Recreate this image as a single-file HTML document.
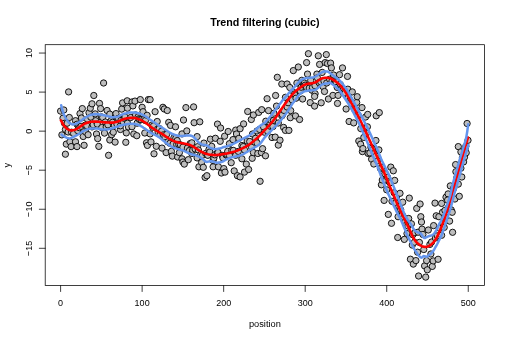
<!DOCTYPE html>
<html><head><meta charset="utf-8"><title>Trend filtering (cubic)</title>
<style>html,body{margin:0;padding:0;background:#fff;overflow:hidden}body{width:507px;height:342px;position:relative}</style></head>
<body>
<svg width="507" height="342" viewBox="0 0 507 342" style="position:absolute;left:0;top:0">
<rect width="507" height="342" fill="#fff"/>
<g fill="#bebebe" stroke="#000" stroke-width="0.9">
<circle cx="60.6" cy="111.1" r="3.15"/>
<circle cx="61.9" cy="134.9" r="3.15"/>
<circle cx="63.0" cy="118.2" r="3.15"/>
<circle cx="63.8" cy="110.0" r="3.15"/>
<circle cx="64.5" cy="123.3" r="3.15"/>
<circle cx="65.4" cy="129.5" r="3.15"/>
<circle cx="65.4" cy="154.2" r="3.15"/>
<circle cx="66.3" cy="144.1" r="3.15"/>
<circle cx="67.2" cy="123.2" r="3.15"/>
<circle cx="68.1" cy="132.0" r="3.15"/>
<circle cx="68.6" cy="91.9" r="3.15"/>
<circle cx="69.3" cy="117.5" r="3.15"/>
<circle cx="69.9" cy="141.8" r="3.15"/>
<circle cx="71.1" cy="146.6" r="3.15"/>
<circle cx="71.6" cy="132.2" r="3.15"/>
<circle cx="73.6" cy="133.5" r="3.15"/>
<circle cx="75.5" cy="141.8" r="3.15"/>
<circle cx="75.5" cy="120.7" r="3.15"/>
<circle cx="77.0" cy="146.6" r="3.15"/>
<circle cx="77.0" cy="124.2" r="3.15"/>
<circle cx="77.7" cy="130.6" r="3.15"/>
<circle cx="78.5" cy="126.5" r="3.15"/>
<circle cx="79.4" cy="127.7" r="3.15"/>
<circle cx="80.0" cy="113.6" r="3.15"/>
<circle cx="81.0" cy="126.3" r="3.15"/>
<circle cx="81.4" cy="118.0" r="3.15"/>
<circle cx="82.3" cy="108.6" r="3.15"/>
<circle cx="83.2" cy="136.5" r="3.15"/>
<circle cx="84.1" cy="145.3" r="3.15"/>
<circle cx="85.1" cy="125.2" r="3.15"/>
<circle cx="85.8" cy="132.2" r="3.15"/>
<circle cx="86.7" cy="125.6" r="3.15"/>
<circle cx="87.5" cy="119.2" r="3.15"/>
<circle cx="88.1" cy="134.7" r="3.15"/>
<circle cx="89.0" cy="112.7" r="3.15"/>
<circle cx="90.3" cy="108.2" r="3.15"/>
<circle cx="90.8" cy="117.1" r="3.15"/>
<circle cx="92.0" cy="126.9" r="3.15"/>
<circle cx="92.0" cy="103.8" r="3.15"/>
<circle cx="93.2" cy="124.8" r="3.15"/>
<circle cx="93.8" cy="95.5" r="3.15"/>
<circle cx="95.2" cy="113.9" r="3.15"/>
<circle cx="95.7" cy="120.7" r="3.15"/>
<circle cx="96.5" cy="134.0" r="3.15"/>
<circle cx="97.3" cy="124.1" r="3.15"/>
<circle cx="97.7" cy="138.6" r="3.15"/>
<circle cx="98.8" cy="146.4" r="3.15"/>
<circle cx="99.5" cy="103.4" r="3.15"/>
<circle cx="100.6" cy="108.6" r="3.15"/>
<circle cx="101.4" cy="116.9" r="3.15"/>
<circle cx="101.8" cy="127.6" r="3.15"/>
<circle cx="102.7" cy="117.5" r="3.15"/>
<circle cx="103.6" cy="83.0" r="3.15"/>
<circle cx="104.5" cy="133.1" r="3.15"/>
<circle cx="105.4" cy="122.0" r="3.15"/>
<circle cx="106.2" cy="126.9" r="3.15"/>
<circle cx="107.1" cy="110.5" r="3.15"/>
<circle cx="107.9" cy="124.8" r="3.15"/>
<circle cx="108.6" cy="155.3" r="3.15"/>
<circle cx="109.8" cy="114.1" r="3.15"/>
<circle cx="109.8" cy="140.0" r="3.15"/>
<circle cx="111.1" cy="120.7" r="3.15"/>
<circle cx="111.6" cy="134.7" r="3.15"/>
<circle cx="112.5" cy="122.3" r="3.15"/>
<circle cx="113.3" cy="132.2" r="3.15"/>
<circle cx="114.4" cy="125.2" r="3.15"/>
<circle cx="115.1" cy="142.1" r="3.15"/>
<circle cx="116.0" cy="113.6" r="3.15"/>
<circle cx="116.9" cy="124.0" r="3.15"/>
<circle cx="117.7" cy="118.8" r="3.15"/>
<circle cx="118.5" cy="118.4" r="3.15"/>
<circle cx="120.4" cy="129.5" r="3.15"/>
<circle cx="120.4" cy="125.8" r="3.15"/>
<circle cx="120.9" cy="120.5" r="3.15"/>
<circle cx="121.7" cy="109.1" r="3.15"/>
<circle cx="122.6" cy="102.9" r="3.15"/>
<circle cx="123.4" cy="122.3" r="3.15"/>
<circle cx="124.2" cy="118.3" r="3.15"/>
<circle cx="125.0" cy="117.0" r="3.15"/>
<circle cx="125.8" cy="142.3" r="3.15"/>
<circle cx="126.3" cy="132.9" r="3.15"/>
<circle cx="127.2" cy="100.8" r="3.15"/>
<circle cx="127.5" cy="108.2" r="3.15"/>
<circle cx="127.5" cy="123.2" r="3.15"/>
<circle cx="128.4" cy="126.9" r="3.15"/>
<circle cx="130.7" cy="117.5" r="3.15"/>
<circle cx="132.0" cy="126.7" r="3.15"/>
<circle cx="132.0" cy="102.0" r="3.15"/>
<circle cx="132.9" cy="105.9" r="3.15"/>
<circle cx="133.8" cy="134.0" r="3.15"/>
<circle cx="135.0" cy="101.1" r="3.15"/>
<circle cx="135.6" cy="114.9" r="3.15"/>
<circle cx="136.8" cy="135.7" r="3.15"/>
<circle cx="137.1" cy="123.2" r="3.15"/>
<circle cx="138.1" cy="116.9" r="3.15"/>
<circle cx="138.9" cy="118.8" r="3.15"/>
<circle cx="139.7" cy="119.6" r="3.15"/>
<circle cx="140.3" cy="99.6" r="3.15"/>
<circle cx="141.2" cy="119.7" r="3.15"/>
<circle cx="142.1" cy="107.3" r="3.15"/>
<circle cx="143.0" cy="111.7" r="3.15"/>
<circle cx="143.8" cy="119.6" r="3.15"/>
<circle cx="144.8" cy="133.0" r="3.15"/>
<circle cx="145.4" cy="120.5" r="3.15"/>
<circle cx="146.5" cy="142.8" r="3.15"/>
<circle cx="147.1" cy="115.3" r="3.15"/>
<circle cx="147.4" cy="145.4" r="3.15"/>
<circle cx="148.3" cy="99.6" r="3.15"/>
<circle cx="150.1" cy="133.9" r="3.15"/>
<circle cx="150.1" cy="99.6" r="3.15"/>
<circle cx="151.0" cy="141.9" r="3.15"/>
<circle cx="151.9" cy="125.0" r="3.15"/>
<circle cx="152.7" cy="127.3" r="3.15"/>
<circle cx="153.6" cy="125.9" r="3.15"/>
<circle cx="154.0" cy="153.8" r="3.15"/>
<circle cx="155.1" cy="111.7" r="3.15"/>
<circle cx="156.3" cy="146.3" r="3.15"/>
<circle cx="157.2" cy="121.5" r="3.15"/>
<circle cx="157.6" cy="129.1" r="3.15"/>
<circle cx="158.1" cy="132.1" r="3.15"/>
<circle cx="159.3" cy="128.4" r="3.15"/>
<circle cx="160.1" cy="134.5" r="3.15"/>
<circle cx="162.0" cy="148.1" r="3.15"/>
<circle cx="161.6" cy="131.2" r="3.15"/>
<circle cx="162.9" cy="107.3" r="3.15"/>
<circle cx="163.3" cy="134.9" r="3.15"/>
<circle cx="164.3" cy="109.0" r="3.15"/>
<circle cx="165.0" cy="136.8" r="3.15"/>
<circle cx="166.1" cy="152.6" r="3.15"/>
<circle cx="166.6" cy="134.4" r="3.15"/>
<circle cx="167.3" cy="110.5" r="3.15"/>
<circle cx="167.8" cy="141.9" r="3.15"/>
<circle cx="168.7" cy="122.4" r="3.15"/>
<circle cx="169.9" cy="143.3" r="3.15"/>
<circle cx="170.5" cy="125.4" r="3.15"/>
<circle cx="171.4" cy="151.3" r="3.15"/>
<circle cx="172.3" cy="156.1" r="3.15"/>
<circle cx="173.1" cy="144.0" r="3.15"/>
<circle cx="173.9" cy="137.8" r="3.15"/>
<circle cx="175.8" cy="138.3" r="3.15"/>
<circle cx="175.5" cy="126.8" r="3.15"/>
<circle cx="176.7" cy="144.5" r="3.15"/>
<circle cx="177.2" cy="140.6" r="3.15"/>
<circle cx="177.6" cy="157.0" r="3.15"/>
<circle cx="178.8" cy="144.6" r="3.15"/>
<circle cx="179.4" cy="152.6" r="3.15"/>
<circle cx="180.4" cy="144.8" r="3.15"/>
<circle cx="182.0" cy="158.8" r="3.15"/>
<circle cx="182.0" cy="133.9" r="3.15"/>
<circle cx="182.9" cy="147.2" r="3.15"/>
<circle cx="182.9" cy="162.0" r="3.15"/>
<circle cx="183.5" cy="120.0" r="3.15"/>
<circle cx="184.3" cy="164.1" r="3.15"/>
<circle cx="185.9" cy="107.6" r="3.15"/>
<circle cx="186.8" cy="130.9" r="3.15"/>
<circle cx="187.4" cy="148.1" r="3.15"/>
<circle cx="188.3" cy="159.7" r="3.15"/>
<circle cx="189.4" cy="150.5" r="3.15"/>
<circle cx="190.2" cy="143.6" r="3.15"/>
<circle cx="191.8" cy="153.5" r="3.15"/>
<circle cx="191.8" cy="142.8" r="3.15"/>
<circle cx="192.7" cy="150.1" r="3.15"/>
<circle cx="193.6" cy="106.9" r="3.15"/>
<circle cx="194.1" cy="122.7" r="3.15"/>
<circle cx="195.1" cy="149.0" r="3.15"/>
<circle cx="197.1" cy="157.9" r="3.15"/>
<circle cx="197.1" cy="136.6" r="3.15"/>
<circle cx="197.6" cy="146.7" r="3.15"/>
<circle cx="198.4" cy="150.0" r="3.15"/>
<circle cx="198.9" cy="166.8" r="3.15"/>
<circle cx="199.8" cy="121.8" r="3.15"/>
<circle cx="200.8" cy="154.4" r="3.15"/>
<circle cx="201.6" cy="162.4" r="3.15"/>
<circle cx="202.5" cy="155.2" r="3.15"/>
<circle cx="203.3" cy="167.3" r="3.15"/>
<circle cx="203.9" cy="143.1" r="3.15"/>
<circle cx="205.1" cy="177.4" r="3.15"/>
<circle cx="205.7" cy="153.4" r="3.15"/>
<circle cx="206.9" cy="175.7" r="3.15"/>
<circle cx="207.4" cy="154.8" r="3.15"/>
<circle cx="207.8" cy="155.3" r="3.15"/>
<circle cx="209.0" cy="149.4" r="3.15"/>
<circle cx="209.8" cy="152.0" r="3.15"/>
<circle cx="210.4" cy="139.2" r="3.15"/>
<circle cx="211.7" cy="146.3" r="3.15"/>
<circle cx="213.1" cy="166.8" r="3.15"/>
<circle cx="213.1" cy="160.6" r="3.15"/>
<circle cx="213.9" cy="158.1" r="3.15"/>
<circle cx="214.7" cy="154.8" r="3.15"/>
<circle cx="215.4" cy="138.3" r="3.15"/>
<circle cx="217.5" cy="152.6" r="3.15"/>
<circle cx="217.5" cy="124.1" r="3.15"/>
<circle cx="218.0" cy="152.5" r="3.15"/>
<circle cx="218.4" cy="166.8" r="3.15"/>
<circle cx="220.6" cy="128.0" r="3.15"/>
<circle cx="220.2" cy="141.3" r="3.15"/>
<circle cx="221.4" cy="173.0" r="3.15"/>
<circle cx="222.0" cy="155.3" r="3.15"/>
<circle cx="222.9" cy="157.9" r="3.15"/>
<circle cx="223.8" cy="168.6" r="3.15"/>
<circle cx="224.6" cy="136.2" r="3.15"/>
<circle cx="225.0" cy="172.1" r="3.15"/>
<circle cx="226.1" cy="154.9" r="3.15"/>
<circle cx="226.9" cy="154.3" r="3.15"/>
<circle cx="227.7" cy="151.3" r="3.15"/>
<circle cx="228.2" cy="131.5" r="3.15"/>
<circle cx="229.4" cy="143.7" r="3.15"/>
<circle cx="229.4" cy="155.3" r="3.15"/>
<circle cx="231.2" cy="162.7" r="3.15"/>
<circle cx="231.8" cy="150.4" r="3.15"/>
<circle cx="233.0" cy="139.6" r="3.15"/>
<circle cx="233.4" cy="150.4" r="3.15"/>
<circle cx="234.2" cy="170.9" r="3.15"/>
<circle cx="235.7" cy="155.3" r="3.15"/>
<circle cx="235.7" cy="130.1" r="3.15"/>
<circle cx="236.5" cy="134.0" r="3.15"/>
<circle cx="237.4" cy="175.7" r="3.15"/>
<circle cx="238.3" cy="151.4" r="3.15"/>
<circle cx="238.8" cy="138.4" r="3.15"/>
<circle cx="240.1" cy="128.7" r="3.15"/>
<circle cx="240.1" cy="176.9" r="3.15"/>
<circle cx="241.9" cy="145.5" r="3.15"/>
<circle cx="241.9" cy="158.8" r="3.15"/>
<circle cx="243.2" cy="146.6" r="3.15"/>
<circle cx="243.6" cy="123.9" r="3.15"/>
<circle cx="244.5" cy="149.9" r="3.15"/>
<circle cx="244.5" cy="172.1" r="3.15"/>
<circle cx="246.3" cy="164.1" r="3.15"/>
<circle cx="247.2" cy="141.1" r="3.15"/>
<circle cx="247.7" cy="111.5" r="3.15"/>
<circle cx="248.6" cy="169.5" r="3.15"/>
<circle cx="249.7" cy="141.5" r="3.15"/>
<circle cx="251.6" cy="147.3" r="3.15"/>
<circle cx="251.3" cy="119.5" r="3.15"/>
<circle cx="252.2" cy="158.3" r="3.15"/>
<circle cx="252.5" cy="134.0" r="3.15"/>
<circle cx="253.4" cy="115.0" r="3.15"/>
<circle cx="253.4" cy="152.6" r="3.15"/>
<circle cx="255.5" cy="138.3" r="3.15"/>
<circle cx="257.0" cy="142.8" r="3.15"/>
<circle cx="257.0" cy="131.0" r="3.15"/>
<circle cx="257.8" cy="153.5" r="3.15"/>
<circle cx="258.7" cy="112.4" r="3.15"/>
<circle cx="259.5" cy="129.4" r="3.15"/>
<circle cx="260.1" cy="181.3" r="3.15"/>
<circle cx="261.4" cy="152.6" r="3.15"/>
<circle cx="261.7" cy="109.7" r="3.15"/>
<circle cx="262.6" cy="148.7" r="3.15"/>
<circle cx="263.6" cy="127.0" r="3.15"/>
<circle cx="264.4" cy="132.2" r="3.15"/>
<circle cx="265.5" cy="155.8" r="3.15"/>
<circle cx="265.8" cy="121.2" r="3.15"/>
<circle cx="267.1" cy="98.7" r="3.15"/>
<circle cx="267.7" cy="131.2" r="3.15"/>
<circle cx="268.5" cy="110.6" r="3.15"/>
<circle cx="269.3" cy="125.9" r="3.15"/>
<circle cx="270.1" cy="123.2" r="3.15"/>
<circle cx="270.9" cy="120.2" r="3.15"/>
<circle cx="272.0" cy="137.5" r="3.15"/>
<circle cx="272.9" cy="126.6" r="3.15"/>
<circle cx="273.4" cy="120.4" r="3.15"/>
<circle cx="273.8" cy="113.2" r="3.15"/>
<circle cx="275.2" cy="137.1" r="3.15"/>
<circle cx="275.6" cy="95.5" r="3.15"/>
<circle cx="276.5" cy="106.1" r="3.15"/>
<circle cx="277.3" cy="77.3" r="3.15"/>
<circle cx="278.3" cy="123.0" r="3.15"/>
<circle cx="278.3" cy="145.1" r="3.15"/>
<circle cx="280.0" cy="140.2" r="3.15"/>
<circle cx="281.8" cy="115.9" r="3.15"/>
<circle cx="281.8" cy="84.0" r="3.15"/>
<circle cx="282.4" cy="114.6" r="3.15"/>
<circle cx="283.6" cy="127.4" r="3.15"/>
<circle cx="284.0" cy="110.4" r="3.15"/>
<circle cx="285.4" cy="130.4" r="3.15"/>
<circle cx="285.4" cy="97.3" r="3.15"/>
<circle cx="287.1" cy="107.0" r="3.15"/>
<circle cx="287.1" cy="84.0" r="3.15"/>
<circle cx="288.1" cy="102.7" r="3.15"/>
<circle cx="288.9" cy="130.4" r="3.15"/>
<circle cx="289.8" cy="87.5" r="3.15"/>
<circle cx="290.3" cy="117.7" r="3.15"/>
<circle cx="290.7" cy="110.6" r="3.15"/>
<circle cx="292.1" cy="99.8" r="3.15"/>
<circle cx="293.3" cy="70.6" r="3.15"/>
<circle cx="293.8" cy="92.6" r="3.15"/>
<circle cx="294.6" cy="94.0" r="3.15"/>
<circle cx="295.5" cy="115.9" r="3.15"/>
<circle cx="296.0" cy="98.2" r="3.15"/>
<circle cx="296.9" cy="83.1" r="3.15"/>
<circle cx="298.3" cy="67.0" r="3.15"/>
<circle cx="299.6" cy="119.5" r="3.15"/>
<circle cx="299.6" cy="91.1" r="3.15"/>
<circle cx="300.3" cy="90.9" r="3.15"/>
<circle cx="301.1" cy="87.2" r="3.15"/>
<circle cx="301.8" cy="80.3" r="3.15"/>
<circle cx="302.6" cy="99.0" r="3.15"/>
<circle cx="303.6" cy="85.0" r="3.15"/>
<circle cx="304.4" cy="83.1" r="3.15"/>
<circle cx="305.2" cy="85.2" r="3.15"/>
<circle cx="306.7" cy="87.5" r="3.15"/>
<circle cx="306.6" cy="62.6" r="3.15"/>
<circle cx="307.5" cy="74.1" r="3.15"/>
<circle cx="308.4" cy="53.7" r="3.15"/>
<circle cx="309.3" cy="88.1" r="3.15"/>
<circle cx="310.2" cy="102.6" r="3.15"/>
<circle cx="310.7" cy="80.3" r="3.15"/>
<circle cx="312.0" cy="90.2" r="3.15"/>
<circle cx="312.5" cy="87.4" r="3.15"/>
<circle cx="315.1" cy="93.7" r="3.15"/>
<circle cx="314.6" cy="106.1" r="3.15"/>
<circle cx="314.6" cy="96.4" r="3.15"/>
<circle cx="315.0" cy="85.7" r="3.15"/>
<circle cx="316.9" cy="74.1" r="3.15"/>
<circle cx="317.4" cy="77.8" r="3.15"/>
<circle cx="318.3" cy="55.8" r="3.15"/>
<circle cx="319.1" cy="82.7" r="3.15"/>
<circle cx="319.6" cy="64.4" r="3.15"/>
<circle cx="320.7" cy="81.8" r="3.15"/>
<circle cx="321.2" cy="102.8" r="3.15"/>
<circle cx="322.2" cy="72.4" r="3.15"/>
<circle cx="323.0" cy="86.6" r="3.15"/>
<circle cx="323.9" cy="80.9" r="3.15"/>
<circle cx="324.5" cy="91.5" r="3.15"/>
<circle cx="325.2" cy="62.6" r="3.15"/>
<circle cx="326.3" cy="54.6" r="3.15"/>
<circle cx="326.7" cy="83.0" r="3.15"/>
<circle cx="327.5" cy="63.5" r="3.15"/>
<circle cx="328.4" cy="99.0" r="3.15"/>
<circle cx="329.6" cy="79.2" r="3.15"/>
<circle cx="330.6" cy="63.1" r="3.15"/>
<circle cx="331.4" cy="67.9" r="3.15"/>
<circle cx="332.1" cy="80.9" r="3.15"/>
<circle cx="332.9" cy="95.4" r="3.15"/>
<circle cx="333.6" cy="75.0" r="3.15"/>
<circle cx="334.5" cy="81.2" r="3.15"/>
<circle cx="335.4" cy="82.1" r="3.15"/>
<circle cx="336.2" cy="82.1" r="3.15"/>
<circle cx="337.2" cy="87.4" r="3.15"/>
<circle cx="337.5" cy="103.4" r="3.15"/>
<circle cx="338.1" cy="95.4" r="3.15"/>
<circle cx="339.5" cy="74.7" r="3.15"/>
<circle cx="340.2" cy="84.4" r="3.15"/>
<circle cx="341.1" cy="89.0" r="3.15"/>
<circle cx="341.9" cy="88.7" r="3.15"/>
<circle cx="342.5" cy="67.9" r="3.15"/>
<circle cx="343.5" cy="89.4" r="3.15"/>
<circle cx="344.3" cy="91.8" r="3.15"/>
<circle cx="345.1" cy="92.9" r="3.15"/>
<circle cx="346.1" cy="109.0" r="3.15"/>
<circle cx="347.8" cy="89.2" r="3.15"/>
<circle cx="347.5" cy="76.4" r="3.15"/>
<circle cx="348.4" cy="97.5" r="3.15"/>
<circle cx="349.1" cy="121.5" r="3.15"/>
<circle cx="350.0" cy="100.3" r="3.15"/>
<circle cx="350.8" cy="102.2" r="3.15"/>
<circle cx="351.7" cy="103.9" r="3.15"/>
<circle cx="352.3" cy="91.9" r="3.15"/>
<circle cx="353.7" cy="122.9" r="3.15"/>
<circle cx="354.1" cy="108.5" r="3.15"/>
<circle cx="354.9" cy="109.6" r="3.15"/>
<circle cx="355.7" cy="109.9" r="3.15"/>
<circle cx="356.7" cy="102.5" r="3.15"/>
<circle cx="357.2" cy="96.7" r="3.15"/>
<circle cx="358.2" cy="115.2" r="3.15"/>
<circle cx="358.8" cy="141.0" r="3.15"/>
<circle cx="360.8" cy="128.6" r="3.15"/>
<circle cx="360.6" cy="144.2" r="3.15"/>
<circle cx="362.4" cy="151.6" r="3.15"/>
<circle cx="362.0" cy="107.6" r="3.15"/>
<circle cx="362.9" cy="148.6" r="3.15"/>
<circle cx="363.8" cy="137.4" r="3.15"/>
<circle cx="364.7" cy="128.0" r="3.15"/>
<circle cx="365.6" cy="117.0" r="3.15"/>
<circle cx="366.3" cy="133.3" r="3.15"/>
<circle cx="367.4" cy="126.8" r="3.15"/>
<circle cx="367.7" cy="114.4" r="3.15"/>
<circle cx="368.1" cy="153.4" r="3.15"/>
<circle cx="369.9" cy="152.9" r="3.15"/>
<circle cx="371.6" cy="159.2" r="3.15"/>
<circle cx="370.9" cy="147.2" r="3.15"/>
<circle cx="372.0" cy="148.1" r="3.15"/>
<circle cx="372.9" cy="149.6" r="3.15"/>
<circle cx="373.8" cy="164.0" r="3.15"/>
<circle cx="374.5" cy="153.3" r="3.15"/>
<circle cx="376.1" cy="156.1" r="3.15"/>
<circle cx="375.9" cy="140.5" r="3.15"/>
<circle cx="376.2" cy="115.8" r="3.15"/>
<circle cx="377.8" cy="160.9" r="3.15"/>
<circle cx="378.9" cy="149.9" r="3.15"/>
<circle cx="379.3" cy="112.6" r="3.15"/>
<circle cx="380.5" cy="168.5" r="3.15"/>
<circle cx="381.4" cy="184.8" r="3.15"/>
<circle cx="381.8" cy="167.3" r="3.15"/>
<circle cx="382.3" cy="180.0" r="3.15"/>
<circle cx="383.5" cy="175.8" r="3.15"/>
<circle cx="384.1" cy="200.4" r="3.15"/>
<circle cx="384.9" cy="173.8" r="3.15"/>
<circle cx="385.9" cy="180.0" r="3.15"/>
<circle cx="386.7" cy="189.8" r="3.15"/>
<circle cx="387.6" cy="177.4" r="3.15"/>
<circle cx="388.3" cy="214.4" r="3.15"/>
<circle cx="389.2" cy="181.7" r="3.15"/>
<circle cx="390.0" cy="182.9" r="3.15"/>
<circle cx="390.8" cy="167.1" r="3.15"/>
<circle cx="391.5" cy="223.3" r="3.15"/>
<circle cx="392.0" cy="201.3" r="3.15"/>
<circle cx="393.3" cy="170.8" r="3.15"/>
<circle cx="394.1" cy="192.8" r="3.15"/>
<circle cx="394.7" cy="180.4" r="3.15"/>
<circle cx="395.7" cy="202.7" r="3.15"/>
<circle cx="396.5" cy="196.9" r="3.15"/>
<circle cx="397.7" cy="237.5" r="3.15"/>
<circle cx="398.1" cy="216.7" r="3.15"/>
<circle cx="398.9" cy="206.5" r="3.15"/>
<circle cx="400.0" cy="193.3" r="3.15"/>
<circle cx="400.6" cy="209.6" r="3.15"/>
<circle cx="401.4" cy="214.4" r="3.15"/>
<circle cx="402.2" cy="214.9" r="3.15"/>
<circle cx="402.7" cy="202.2" r="3.15"/>
<circle cx="403.8" cy="217.5" r="3.15"/>
<circle cx="404.3" cy="239.4" r="3.15"/>
<circle cx="405.5" cy="221.5" r="3.15"/>
<circle cx="406.3" cy="225.3" r="3.15"/>
<circle cx="407.0" cy="233.6" r="3.15"/>
<circle cx="407.9" cy="226.0" r="3.15"/>
<circle cx="408.7" cy="218.5" r="3.15"/>
<circle cx="409.3" cy="198.1" r="3.15"/>
<circle cx="410.4" cy="259.2" r="3.15"/>
<circle cx="411.4" cy="223.8" r="3.15"/>
<circle cx="412.3" cy="245.1" r="3.15"/>
<circle cx="412.8" cy="234.8" r="3.15"/>
<circle cx="413.3" cy="264.1" r="3.15"/>
<circle cx="414.4" cy="242.2" r="3.15"/>
<circle cx="414.9" cy="232.7" r="3.15"/>
<circle cx="415.9" cy="260.6" r="3.15"/>
<circle cx="416.7" cy="208.4" r="3.15"/>
<circle cx="417.6" cy="252.2" r="3.15"/>
<circle cx="418.1" cy="232.2" r="3.15"/>
<circle cx="418.6" cy="276.0" r="3.15"/>
<circle cx="419.4" cy="242.4" r="3.15"/>
<circle cx="420.1" cy="204.0" r="3.15"/>
<circle cx="420.8" cy="216.7" r="3.15"/>
<circle cx="421.5" cy="222.0" r="3.15"/>
<circle cx="422.0" cy="229.1" r="3.15"/>
<circle cx="422.9" cy="234.5" r="3.15"/>
<circle cx="423.8" cy="249.5" r="3.15"/>
<circle cx="424.6" cy="265.9" r="3.15"/>
<circle cx="425.7" cy="277.1" r="3.15"/>
<circle cx="426.6" cy="260.6" r="3.15"/>
<circle cx="427.3" cy="269.8" r="3.15"/>
<circle cx="428.3" cy="230.0" r="3.15"/>
<circle cx="429.9" cy="244.4" r="3.15"/>
<circle cx="430.9" cy="254.0" r="3.15"/>
<circle cx="431.6" cy="242.0" r="3.15"/>
<circle cx="432.3" cy="266.4" r="3.15"/>
<circle cx="433.2" cy="260.9" r="3.15"/>
<circle cx="433.6" cy="225.6" r="3.15"/>
<circle cx="435.0" cy="203.1" r="3.15"/>
<circle cx="435.4" cy="238.0" r="3.15"/>
<circle cx="436.2" cy="215.8" r="3.15"/>
<circle cx="437.3" cy="235.8" r="3.15"/>
<circle cx="438.1" cy="259.3" r="3.15"/>
<circle cx="438.9" cy="216.7" r="3.15"/>
<circle cx="439.7" cy="228.3" r="3.15"/>
<circle cx="441.6" cy="235.3" r="3.15"/>
<circle cx="441.6" cy="203.4" r="3.15"/>
<circle cx="442.5" cy="212.3" r="3.15"/>
<circle cx="443.0" cy="223.5" r="3.15"/>
<circle cx="444.9" cy="210.4" r="3.15"/>
<circle cx="444.2" cy="227.4" r="3.15"/>
<circle cx="445.4" cy="216.8" r="3.15"/>
<circle cx="446.0" cy="197.2" r="3.15"/>
<circle cx="448.1" cy="193.9" r="3.15"/>
<circle cx="447.6" cy="200.1" r="3.15"/>
<circle cx="448.7" cy="207.0" r="3.15"/>
<circle cx="449.6" cy="221.1" r="3.15"/>
<circle cx="450.3" cy="185.9" r="3.15"/>
<circle cx="451.2" cy="209.9" r="3.15"/>
<circle cx="452.2" cy="212.3" r="3.15"/>
<circle cx="452.6" cy="232.3" r="3.15"/>
<circle cx="453.6" cy="188.4" r="3.15"/>
<circle cx="455.6" cy="164.6" r="3.15"/>
<circle cx="454.9" cy="199.0" r="3.15"/>
<circle cx="455.9" cy="171.7" r="3.15"/>
<circle cx="456.8" cy="177.7" r="3.15"/>
<circle cx="458.3" cy="184.1" r="3.15"/>
<circle cx="458.3" cy="146.6" r="3.15"/>
<circle cx="459.3" cy="196.3" r="3.15"/>
<circle cx="460.9" cy="168.2" r="3.15"/>
<circle cx="460.9" cy="151.9" r="3.15"/>
<circle cx="461.8" cy="177.0" r="3.15"/>
<circle cx="462.5" cy="157.5" r="3.15"/>
<circle cx="463.6" cy="161.9" r="3.15"/>
<circle cx="464.5" cy="157.2" r="3.15"/>
<circle cx="465.0" cy="149.3" r="3.15"/>
<circle cx="465.8" cy="146.4" r="3.15"/>
<circle cx="466.2" cy="152.8" r="3.15"/>
<circle cx="467.1" cy="123.5" r="3.15"/>
<circle cx="468.0" cy="140.3" r="3.15"/>
</g>
<polyline fill="none" stroke="#ff0000" stroke-width="2.6" stroke-linejoin="round" stroke-linecap="round" points="60.9,120.4 61.9,122.2 62.9,124.0 63.9,125.5 64.9,126.7 65.9,127.8 66.9,128.6 67.9,129.3 68.9,129.8 69.9,130.2 70.9,130.4 71.9,130.4 72.9,130.3 73.9,130.1 74.9,129.8 75.9,129.3 76.9,128.8 77.9,128.1 78.9,127.5 79.9,126.8 80.9,126.1 81.9,125.4 82.9,124.8 83.9,124.2 84.9,123.7 85.9,123.2 86.9,122.8 87.9,122.5 88.9,122.2 89.9,122.0 90.9,121.8 91.9,121.7 92.9,121.6 93.9,121.6 94.9,121.6 95.9,121.6 96.9,121.7 97.9,121.8 98.9,121.8 99.9,121.9 100.9,122.0 101.9,122.1 102.9,122.2 103.9,122.3 104.9,122.4 105.9,122.4 106.9,122.5 107.9,122.5 108.9,122.5 109.9,122.5 110.9,122.6 111.9,122.6 112.9,122.6 113.9,122.5 114.9,122.3 115.9,122.1 116.9,121.8 117.9,121.5 118.9,121.1 119.9,120.7 120.9,120.3 121.9,119.9 122.9,119.5 123.9,119.1 124.9,118.8 125.9,118.6 126.9,118.3 127.9,118.2 128.9,118.0 129.9,117.9 130.9,117.9 131.9,117.9 132.9,117.9 133.9,118.0 134.9,118.1 135.9,118.3 136.9,118.6 137.9,118.9 138.9,119.2 139.9,119.6 140.9,120.1 141.9,120.6 142.9,121.1 143.9,121.8 144.9,122.4 145.9,123.1 146.9,123.8 147.9,124.6 148.9,125.3 149.9,126.1 150.9,126.9 151.9,127.6 152.9,128.3 153.9,129.0 154.9,129.7 155.9,130.3 156.9,130.9 157.9,131.5 158.9,132.1 159.9,132.7 160.9,133.2 161.9,133.8 162.9,134.4 163.9,135.1 164.9,135.8 165.9,136.5 166.9,137.2 167.9,137.8 168.9,138.5 169.9,139.1 170.9,139.6 171.9,140.2 172.9,140.7 173.9,141.1 174.9,141.5 175.9,141.9 176.9,142.1 177.9,142.4 178.9,142.6 179.9,142.8 180.9,143.0 181.9,143.2 182.9,143.3 183.9,143.5 184.9,143.7 185.9,143.9 186.9,144.1 187.9,144.4 188.9,144.7 189.9,145.0 190.9,145.4 191.9,145.9 192.9,146.5 193.9,147.0 194.9,147.7 195.9,148.3 196.9,149.0 197.9,149.6 198.9,150.3 199.9,150.9 200.9,151.5 201.9,152.0 202.9,152.5 203.9,153.0 204.9,153.4 205.9,153.7 206.9,154.0 207.9,154.3 208.9,154.5 209.9,154.7 210.9,154.8 211.9,154.9 212.9,155.0 213.9,155.0 214.9,155.1 215.9,155.0 216.9,155.0 217.9,154.9 218.9,154.8 219.9,154.6 220.9,154.5 221.9,154.3 222.9,154.1 223.9,154.0 224.9,153.8 225.9,153.7 226.9,153.5 227.9,153.3 228.9,153.0 229.9,152.8 230.9,152.5 231.9,152.3 232.9,152.0 233.9,151.7 234.9,151.4 235.9,151.0 236.9,150.7 237.9,150.3 238.9,149.9 239.9,149.5 240.9,149.1 241.9,148.6 242.9,148.1 243.9,147.6 244.9,147.1 245.9,146.5 246.9,146.0 247.9,145.4 248.9,144.7 249.9,144.0 250.9,143.3 251.9,142.5 252.9,141.7 253.9,140.8 254.9,140.0 255.9,139.1 256.9,138.2 257.9,137.3 258.9,136.3 259.9,135.3 260.9,134.3 261.9,133.2 262.9,132.1 263.9,131.0 264.9,129.9 265.9,128.8 266.9,127.8 267.9,126.7 268.9,125.6 269.9,124.5 270.9,123.4 271.9,122.3 272.9,121.1 273.9,119.8 274.9,118.5 275.9,117.2 276.9,115.8 277.9,114.3 278.9,112.8 279.9,111.3 280.9,109.8 281.9,108.4 282.9,106.9 283.9,105.5 284.9,104.1 285.9,102.7 286.9,101.4 287.9,100.0 288.9,98.7 289.9,97.4 290.9,96.2 291.9,95.0 292.9,93.8 293.9,92.8 294.9,91.8 295.9,90.9 296.9,90.1 297.9,89.4 298.9,88.6 299.9,87.8 300.9,87.1 301.9,86.4 302.9,85.7 303.9,85.2 304.9,84.7 305.9,84.3 306.9,84.0 307.9,83.8 308.9,83.6 309.9,83.5 310.9,83.4 311.9,83.2 312.9,83.1 313.9,82.8 314.9,82.5 315.9,82.0 316.9,81.5 317.9,80.8 318.9,80.1 319.9,79.5 320.9,78.9 321.9,78.5 322.9,78.1 323.9,77.9 324.9,77.7 325.9,77.7 326.9,77.8 327.9,77.9 328.9,78.0 329.9,78.3 330.9,78.6 331.9,79.1 332.9,79.7 333.9,80.3 334.9,80.9 335.9,81.6 336.9,82.4 337.9,83.2 338.9,84.1 339.9,85.0 340.9,86.1 341.9,87.2 342.9,88.5 343.9,89.9 344.9,91.3 345.9,92.9 346.9,94.5 347.9,96.3 348.9,98.2 349.9,100.2 350.9,102.1 351.9,104.0 352.9,105.9 353.9,107.9 354.9,109.8 355.9,111.7 356.9,113.7 357.9,115.7 358.9,117.7 359.9,119.7 360.9,121.7 361.9,123.8 362.9,125.8 363.9,127.9 364.9,130.0 365.9,132.1 366.9,134.3 367.9,136.5 368.9,138.7 369.9,140.9 370.9,143.1 371.9,145.3 372.9,147.5 373.9,149.7 374.9,151.9 375.9,154.1 376.9,156.3 377.9,158.5 378.9,160.7 379.9,163.0 380.9,165.2 381.9,167.4 382.9,169.7 383.9,172.0 384.9,174.4 385.9,176.8 386.9,179.3 387.9,181.8 388.9,184.3 389.9,186.7 390.9,189.1 391.9,191.5 392.9,193.8 393.9,196.1 394.9,198.4 395.9,200.7 396.9,203.0 397.9,205.2 398.9,207.4 399.9,209.6 400.9,211.7 401.9,213.9 402.9,216.0 403.9,218.0 404.9,220.0 405.9,222.0 406.9,224.0 407.9,226.1 408.9,228.1 409.9,230.3 410.9,232.6 411.9,234.9 412.9,237.0 413.9,238.8 414.9,240.3 415.9,241.6 416.9,242.7 417.9,243.6 418.9,244.4 419.9,245.1 420.9,245.7 421.9,246.2 422.9,246.5 423.9,246.8 424.9,246.9 425.9,246.9 426.9,246.7 427.9,246.4 428.9,246.0 429.9,245.5 430.9,244.8 431.9,243.9 432.9,243.0 433.9,241.8 434.9,240.5 435.9,238.9 436.9,237.1 437.9,235.1 438.9,232.9 439.9,230.7 440.9,228.2 441.9,225.7 442.9,223.0 443.9,220.2 444.9,217.5 445.9,214.6 446.9,211.7 447.9,208.7 448.9,205.6 449.9,202.2 450.9,198.6 451.9,194.9 452.9,191.2 453.9,187.5 454.9,184.0 455.9,180.5 456.9,177.0 457.9,173.5 458.9,169.9 459.9,166.4 460.9,162.8 461.9,159.2 462.9,155.5 463.9,151.8 464.9,148.2 465.9,144.7 466.9,141.2 467.9,137.6 467.9,137.6"/>
<polyline fill="none" stroke="#6495ed" stroke-width="2.5" stroke-linejoin="round" stroke-linecap="round" points="61.2,105.3 62.2,109.5 63.2,112.6 64.2,115.3 65.2,117.3 66.2,119.3 67.2,120.6 68.2,121.8 69.2,122.9 70.2,123.5 71.2,123.9 72.2,124.4 73.2,124.5 74.2,124.2 75.2,124.0 76.2,123.7 77.2,123.2 78.2,122.6 79.2,122.0 80.2,121.3 81.2,120.6 82.2,119.9 83.2,119.1 84.2,118.4 85.2,117.8 86.2,117.1 87.2,116.5 88.2,116.0 89.2,115.5 90.2,115.0 91.2,114.7 92.2,114.5 93.2,114.4 94.2,114.2 95.2,114.2 96.2,114.2 97.2,114.2 98.2,114.3 99.2,114.5 100.2,114.6 101.2,114.8 102.2,115.0 103.2,115.1 104.2,115.3 105.2,115.5 106.2,115.8 107.2,116.0 108.2,116.3 109.2,116.5 110.2,116.8 111.2,117.0 112.2,117.2 113.2,117.2 114.2,117.1 115.2,117.0 116.2,116.9 117.2,116.7 118.2,116.3 119.2,115.8 120.2,115.4 121.2,114.9 122.2,114.5 123.2,114.1 124.2,113.7 125.2,113.4 126.2,113.2 127.2,112.9 128.2,112.7 129.2,112.6 130.2,112.5 131.2,112.4 132.2,112.4 133.2,112.4 134.2,112.4 135.2,112.5 136.2,112.7 137.2,113.0 138.2,113.2 139.2,113.5 140.2,113.8 141.2,114.2 142.2,114.6 143.2,115.1 144.2,115.6 145.2,116.2 146.2,116.8 147.2,117.5 148.2,118.3 149.2,119.0 150.2,119.7 151.2,120.3 152.2,121.0 153.2,121.7 154.2,122.3 155.2,123.0 156.2,123.7 157.2,124.4 158.2,125.1 159.2,125.9 160.2,126.5 161.2,127.1 162.2,127.7 163.2,128.3 164.2,129.0 165.2,129.6 166.2,130.3 167.2,130.9 168.2,131.6 169.2,132.2 170.2,132.8 171.2,133.4 172.2,134.0 173.2,134.3 174.2,134.6 175.2,135.0 176.2,135.3 177.2,135.5 178.2,135.7 179.2,135.9 180.2,136.0 181.2,136.0 182.2,136.0 183.2,135.9 184.2,135.8 185.2,135.7 186.2,135.6 187.2,135.6 188.2,135.5 189.2,135.4 190.2,135.5 191.2,135.8 192.2,136.1 193.2,136.7 194.2,137.7 195.2,138.7 196.2,139.8 197.2,140.8 198.2,141.9 199.2,142.7 200.2,143.5 201.2,144.2 202.2,144.5 203.2,144.7 204.2,144.9 205.2,145.1 206.2,145.3 207.2,145.6 208.2,146.4 209.2,147.2 210.2,147.8 211.2,148.2 212.2,148.5 213.2,148.9 214.2,149.0 215.2,149.0 216.2,149.0 217.2,149.0 218.2,148.8 219.2,148.6 220.2,148.5 221.2,148.1 222.2,147.7 223.2,147.2 224.2,146.9 225.2,146.7 226.2,146.5 227.2,146.2 228.2,145.9 229.2,145.6 230.2,145.3 231.2,144.9 232.2,144.4 233.2,143.9 234.2,143.4 235.2,142.9 236.2,142.4 237.2,141.9 238.2,141.3 239.2,140.7 240.2,140.2 241.2,139.6 242.2,139.1 243.2,138.6 244.2,138.1 245.2,137.6 246.2,137.1 247.2,136.6 248.2,136.1 249.2,135.5 250.2,134.8 251.2,134.1 252.2,133.3 253.2,132.4 254.2,131.4 255.2,130.3 256.2,129.2 257.2,128.3 258.2,127.3 259.2,126.5 260.2,125.8 261.2,125.1 262.2,124.4 263.2,123.9 264.2,123.4 265.2,122.7 266.2,121.4 267.2,120.2 268.2,118.9 269.2,117.7 270.2,116.5 271.2,115.4 272.2,114.2 273.2,112.8 274.2,111.5 275.2,110.2 276.2,108.8 277.2,107.5 278.2,106.2 279.2,104.8 280.2,103.5 281.2,102.2 282.2,100.8 283.2,99.6 284.2,98.4 285.2,97.3 286.2,96.1 287.2,94.9 288.2,93.8 289.2,92.6 290.2,91.5 291.2,90.5 292.2,89.5 293.2,88.5 294.2,87.3 295.2,86.2 296.2,85.0 297.2,83.8 298.2,82.6 299.2,81.5 300.2,80.7 301.2,80.1 302.2,79.5 303.2,78.9 304.2,78.6 305.2,78.4 306.2,78.1 307.2,77.9 308.2,77.9 309.2,77.8 310.2,77.7 311.2,77.7 312.2,77.6 313.2,77.5 314.2,77.3 315.2,76.7 316.2,76.2 317.2,75.6 318.2,74.8 319.2,74.0 320.2,73.3 321.2,72.7 322.2,72.1 323.2,71.7 324.2,71.5 325.2,71.3 326.2,71.4 327.2,71.6 328.2,71.8 329.2,72.4 330.2,73.2 331.2,74.0 332.2,74.8 333.2,75.5 334.2,76.2 335.2,76.9 336.2,77.7 337.2,78.4 338.2,79.2 339.2,80.1 340.2,81.1 341.2,82.2 342.2,83.4 343.2,84.7 344.2,86.0 345.2,87.4 346.2,88.8 347.2,90.3 348.2,91.9 349.2,93.6 350.2,95.4 351.2,97.2 352.2,99.0 353.2,100.8 354.2,102.6 355.2,104.4 356.2,106.2 357.2,108.1 358.2,110.1 359.2,112.0 360.2,113.8 361.2,115.7 362.2,117.6 363.2,119.6 364.2,121.5 365.2,123.4 366.2,125.4 367.2,127.4 368.2,129.4 369.2,131.4 370.2,133.6 371.2,135.8 372.2,138.0 373.2,140.2 374.2,142.4 375.2,144.6 376.2,146.8 377.2,149.0 378.2,151.3 379.2,153.9 380.2,156.4 381.2,158.9 382.2,161.2 383.2,163.2 384.2,165.2 385.2,167.2 386.2,169.2 387.2,171.2 388.2,173.3 389.2,175.6 390.2,177.9 391.2,180.4 392.2,182.9 393.2,185.4 394.2,187.9 395.2,190.4 396.2,192.9 397.2,195.4 398.2,198.0 399.2,200.6 400.2,203.1 401.2,205.7 402.2,208.3 403.2,210.9 404.2,213.4 405.2,215.6 406.2,217.3 407.2,219.0 408.2,220.6 409.2,222.0 410.2,223.3 411.2,224.5 412.2,226.3 413.2,228.4 414.2,229.7 415.2,230.9 416.2,231.5 417.2,232.1 418.2,232.5 419.2,232.8 420.2,233.3 421.2,234.1 422.2,235.5 423.2,237.1 424.2,237.9 425.2,237.9 426.2,237.3 427.2,236.8 428.2,236.4 429.2,236.0 430.2,235.7 431.2,235.5 432.2,235.1 433.2,234.5 434.2,233.6 435.2,232.0 436.2,230.3 437.2,228.3 438.2,226.0 439.2,224.0 440.2,222.3 441.2,220.5 442.2,218.3 443.2,216.0 444.2,213.3 445.2,210.6 446.2,207.7 447.2,204.7 448.2,201.7 449.2,198.7 450.2,195.6 451.2,191.1 452.2,186.2 453.2,182.3 454.2,178.8 455.2,175.3 456.2,171.8 457.2,168.3 458.2,164.8 459.2,161.3 460.2,157.9 461.2,154.6 462.2,151.3 463.2,148.0 464.2,144.9 465.2,141.7 466.2,137.9 467.2,131.8 468.2,124.2 468.2,124.2"/>
<polyline fill="none" stroke="#6495ed" stroke-width="2.5" stroke-linejoin="round" stroke-linecap="round" points="61.5,134.6 62.5,135.4 63.5,136.1 64.5,136.8 65.5,137.2 66.5,137.7 67.5,138.0 68.5,138.2 69.5,138.4 70.5,138.2 71.5,137.8 72.5,137.4 73.5,136.9 74.5,136.4 75.5,135.9 76.5,135.4 77.5,134.8 78.5,134.2 79.5,133.6 80.5,132.9 81.5,132.3 82.5,131.6 83.5,131.0 84.5,130.5 85.5,130.0 86.5,129.6 87.5,129.2 88.5,129.0 89.5,128.8 90.5,128.7 91.5,128.6 92.5,128.5 93.5,128.4 94.5,128.4 95.5,128.5 96.5,128.6 97.5,128.6 98.5,128.8 99.5,129.0 100.5,129.2 101.5,129.4 102.5,129.4 103.5,129.5 104.5,129.6 105.5,129.5 106.5,129.5 107.5,129.4 108.5,129.3 109.5,129.0 110.5,128.7 111.5,128.5 112.5,128.2 113.5,127.8 114.5,127.5 115.5,127.2 116.5,126.8 117.5,126.5 118.5,126.2 119.5,125.8 120.5,125.5 121.5,125.2 122.5,125.0 123.5,124.8 124.5,124.6 125.5,124.4 126.5,124.2 127.5,124.1 128.5,123.9 129.5,123.8 130.5,123.7 131.5,123.7 132.5,123.8 133.5,123.9 134.5,124.0 135.5,124.2 136.5,124.4 137.5,124.6 138.5,124.9 139.5,125.4 140.5,125.9 141.5,126.4 142.5,127.0 143.5,127.7 144.5,128.3 145.5,129.0 146.5,129.8 147.5,130.5 148.5,131.3 149.5,132.0 150.5,132.5 151.5,133.1 152.5,133.7 153.5,134.2 154.5,134.7 155.5,135.2 156.5,135.7 157.5,136.3 158.5,136.9 159.5,137.5 160.5,138.3 161.5,139.1 162.5,139.9 163.5,140.7 164.5,141.6 165.5,142.4 166.5,143.2 167.5,144.0 168.5,144.8 169.5,145.4 170.5,146.0 171.5,146.6 172.5,147.1 173.5,147.5 174.5,147.9 175.5,148.3 176.5,148.6 177.5,148.9 178.5,149.2 179.5,149.4 180.5,149.7 181.5,149.9 182.5,150.1 183.5,150.6 184.5,151.1 185.5,151.6 186.5,152.1 187.5,152.6 188.5,153.1 189.5,153.5 190.5,153.9 191.5,154.3 192.5,154.6 193.5,154.9 194.5,155.1 195.5,155.3 196.5,155.6 197.5,156.0 198.5,156.4 199.5,156.8 200.5,157.5 201.5,158.3 202.5,159.0 203.5,159.6 204.5,160.5 205.5,161.5 206.5,161.9 207.5,161.7 208.5,161.6 209.5,161.4 210.5,161.2 211.5,161.2 212.5,161.5 213.5,161.8 214.5,162.1 215.5,162.4 216.5,162.7 217.5,162.7 218.5,162.5 219.5,162.4 220.5,162.2 221.5,162.1 222.5,161.7 223.5,161.1 224.5,160.5 225.5,159.9 226.5,159.4 227.5,158.9 228.5,158.4 229.5,158.1 230.5,157.7 231.5,157.4 232.5,157.1 233.5,156.9 234.5,156.7 235.5,156.4 236.5,156.2 237.5,156.0 238.5,155.8 239.5,155.5 240.5,155.2 241.5,154.9 242.5,154.5 243.5,154.0 244.5,153.4 245.5,152.8 246.5,152.2 247.5,151.6 248.5,150.9 249.5,150.2 250.5,149.7 251.5,149.1 252.5,148.5 253.5,148.0 254.5,147.4 255.5,146.9 256.5,146.4 257.5,145.7 258.5,145.0 259.5,144.3 260.5,143.2 261.5,141.9 262.5,140.6 263.5,139.1 264.5,137.7 265.5,136.6 266.5,135.5 267.5,134.5 268.5,133.4 269.5,132.4 270.5,131.3 271.5,130.3 272.5,129.2 273.5,128.2 274.5,127.2 275.5,126.1 276.5,125.1 277.5,124.0 278.5,122.9 279.5,121.8 280.5,120.6 281.5,119.4 282.5,118.1 283.5,116.9 284.5,115.6 285.5,114.3 286.5,112.9 287.5,111.5 288.5,110.0 289.5,108.5 290.5,106.9 291.5,105.2 292.5,103.5 293.5,102.2 294.5,101.0 295.5,99.7 296.5,98.2 297.5,96.7 298.5,95.4 299.5,94.5 300.5,93.6 301.5,92.8 302.5,92.3 303.5,91.8 304.5,91.4 305.5,91.0 306.5,90.9 307.5,90.7 308.5,90.6 309.5,90.5 310.5,90.4 311.5,90.3 312.5,90.2 313.5,90.1 314.5,89.9 315.5,89.7 316.5,89.0 317.5,88.2 318.5,87.4 319.5,86.5 320.5,85.6 321.5,84.8 322.5,84.4 323.5,84.0 324.5,83.7 325.5,83.6 326.5,83.5 327.5,83.4 328.5,83.1 329.5,82.8 330.5,83.0 331.5,83.6 332.5,84.3 333.5,85.0 334.5,85.8 335.5,86.6 336.5,87.5 337.5,88.4 338.5,89.4 339.5,90.5 340.5,91.8 341.5,93.2 342.5,94.7 343.5,96.2 344.5,97.7 345.5,99.2 346.5,100.7 347.5,102.2 348.5,103.7 349.5,105.2 350.5,107.0 351.5,108.9 352.5,110.8 353.5,112.7 354.5,114.7 355.5,116.6 356.5,118.5 357.5,120.3 358.5,122.3 359.5,124.4 360.5,126.7 361.5,129.1 362.5,131.5 363.5,133.7 364.5,136.0 365.5,138.3 366.5,140.5 367.5,142.7 368.5,145.0 369.5,147.4 370.5,149.9 371.5,152.4 372.5,154.9 373.5,157.3 374.5,159.6 375.5,161.8 376.5,164.0 377.5,166.4 378.5,169.1 379.5,171.8 380.5,174.5 381.5,177.2 382.5,179.8 383.5,182.3 384.5,184.8 385.5,187.3 386.5,189.8 387.5,192.2 388.5,194.4 389.5,196.6 390.5,198.8 391.5,201.0 392.5,203.1 393.5,205.1 394.5,207.2 395.5,209.3 396.5,211.4 397.5,213.4 398.5,215.4 399.5,217.2 400.5,219.0 401.5,221.3 402.5,223.6 403.5,226.0 404.5,228.3 405.5,230.7 406.5,233.3 407.5,235.7 408.5,237.8 409.5,239.8 410.5,241.8 411.5,243.8 412.5,245.8 413.5,247.6 414.5,249.4 415.5,251.0 416.5,252.5 417.5,254.0 418.5,255.3 419.5,256.5 420.5,257.3 421.5,257.7 422.5,257.0 423.5,256.1 424.5,256.2 425.5,256.5 426.5,256.8 427.5,256.4 428.5,255.4 429.5,254.7 430.5,254.0 431.5,253.0 432.5,252.0 433.5,250.5 434.5,248.8 435.5,247.0 436.5,245.3 437.5,243.5 438.5,241.5 439.5,239.5 440.5,237.6 441.5,235.6 442.5,233.0 443.5,229.8 444.5,226.8 445.5,223.8 446.5,220.8 447.5,217.8 448.5,214.8 449.5,211.8 450.5,208.7 451.5,204.9 452.5,201.0 453.5,197.1 454.5,193.3 455.5,189.8 456.5,186.3 457.5,182.8 458.5,179.3 459.5,175.8 460.5,172.3 461.5,168.7 462.5,165.2 463.5,161.6 464.5,158.0 465.5,154.5 466.5,151.1 467.5,148.0 468.5,145.0 468.5,145.0"/>
<g fill="none" stroke="#000" stroke-width="0.75" stroke-linecap="round">
<rect x="45.2" y="44.7" width="439.40000000000003" height="240.90000000000003"/>
<line x1="60.60" y1="285.6" x2="60.60" y2="291.5"/>
<line x1="142.13" y1="285.6" x2="142.13" y2="291.5"/>
<line x1="223.66" y1="285.6" x2="223.66" y2="291.5"/>
<line x1="305.19" y1="285.6" x2="305.19" y2="291.5"/>
<line x1="386.72" y1="285.6" x2="386.72" y2="291.5"/>
<line x1="468.25" y1="285.6" x2="468.25" y2="291.5"/>
<line x1="45.2" y1="248.30" x2="39.300000000000004" y2="248.30"/>
<line x1="45.2" y1="209.25" x2="39.300000000000004" y2="209.25"/>
<line x1="45.2" y1="170.20" x2="39.300000000000004" y2="170.20"/>
<line x1="45.2" y1="131.15" x2="39.300000000000004" y2="131.15"/>
<line x1="45.2" y1="92.10" x2="39.300000000000004" y2="92.10"/>
<line x1="45.2" y1="53.05" x2="39.300000000000004" y2="53.05"/>
</g>
<g font-family="Liberation Sans, Arial, sans-serif" font-size="9.25" fill="#000" text-anchor="middle">
<text transform="translate(60.60,305.6) scale(0.91,1)" font-size="9.9">0</text>
<text transform="translate(142.13,305.6) scale(0.91,1)" font-size="9.9">100</text>
<text transform="translate(223.66,305.6) scale(0.91,1)" font-size="9.9">200</text>
<text transform="translate(305.19,305.6) scale(0.91,1)" font-size="9.9">300</text>
<text transform="translate(386.72,305.6) scale(0.91,1)" font-size="9.9">400</text>
<text transform="translate(468.25,305.6) scale(0.91,1)" font-size="9.9">500</text>
<text transform="translate(31.5,248.30) rotate(-90) scale(0.91,1)" font-size="9.9">−15</text>
<text transform="translate(31.5,209.25) rotate(-90) scale(0.91,1)" font-size="9.9">−10</text>
<text transform="translate(31.5,170.20) rotate(-90) scale(0.91,1)" font-size="9.9">−5</text>
<text transform="translate(31.5,131.15) rotate(-90) scale(0.91,1)" font-size="9.9">0</text>
<text transform="translate(31.5,92.10) rotate(-90) scale(0.91,1)" font-size="9.9">5</text>
<text transform="translate(31.5,53.05) rotate(-90) scale(0.91,1)" font-size="9.9">10</text>
<text x="264.9" y="327.4">position</text>
<text transform="translate(10,165.2) rotate(-90)">y</text>
<text x="264.9" y="26" font-weight="bold" font-size="10.7">Trend filtering (cubic)</text>
</g>
</svg>
</body></html>
